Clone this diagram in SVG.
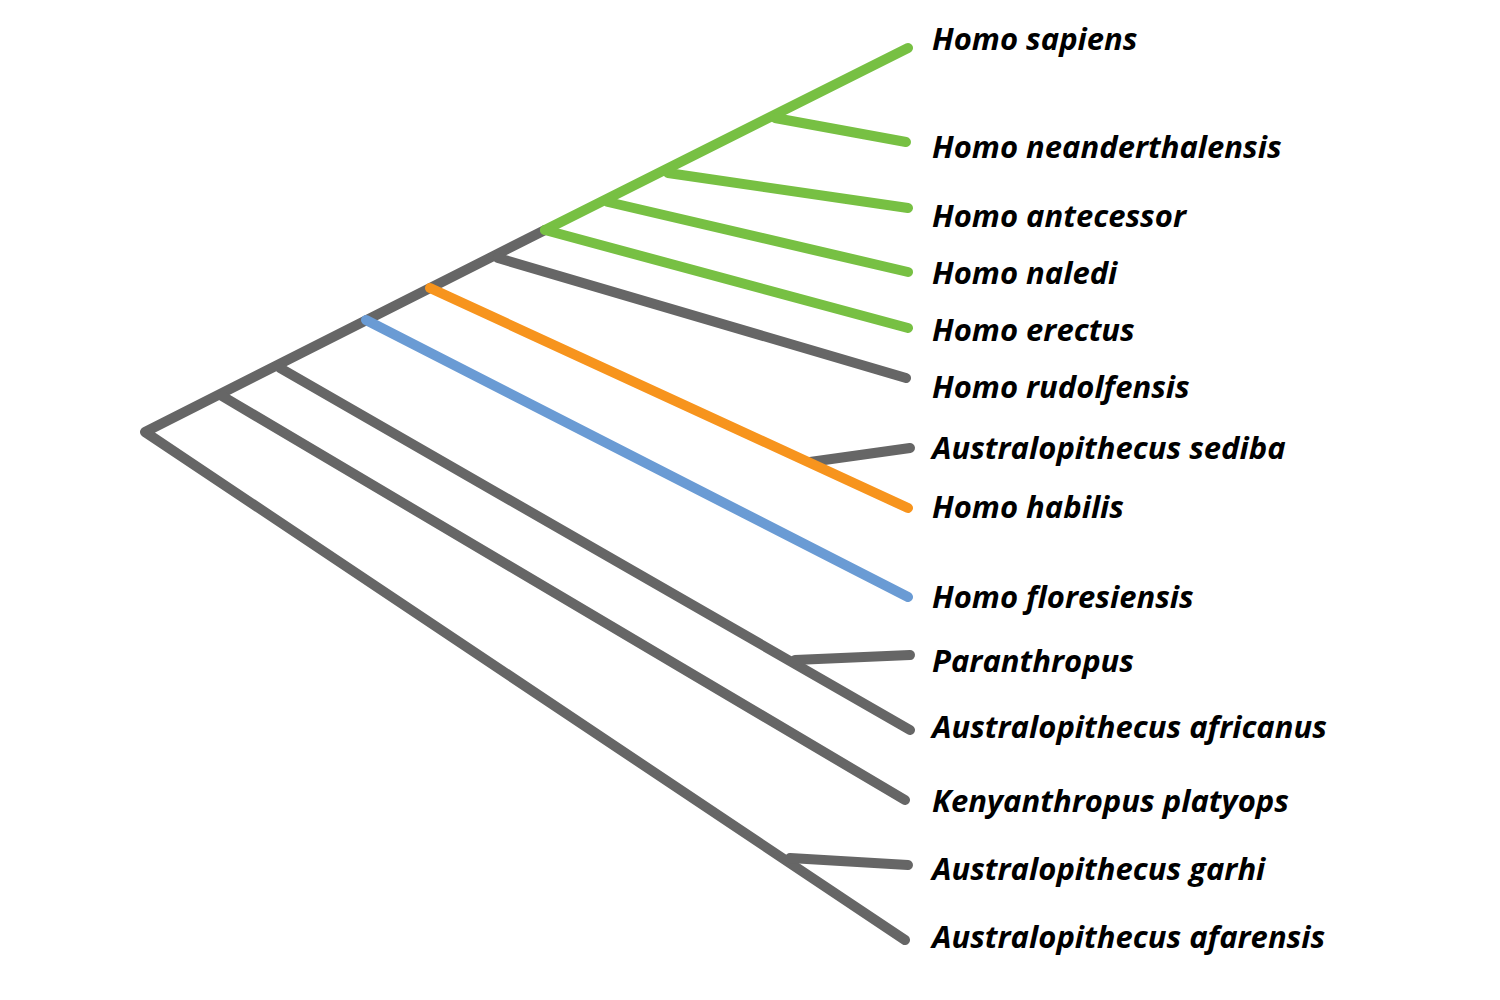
<svg xmlns="http://www.w3.org/2000/svg" width="1500" height="1000" viewBox="0 0 1500 1000">
<style>
.l{fill:none;stroke-width:10;stroke-linecap:round;stroke-linejoin:round}
.g{stroke:#666}.gr{stroke:#77c043}.o{stroke:#f7941d}.b{stroke:#6a9bd4}
text{font-family:"Open Sans","Noto Sans",sans-serif;font-weight:bold;font-style:italic;font-size:31px;fill:#000}
</style>
<rect width="1500" height="1000" fill="#fff"/>
<g id="connectors">
<path class="l g" d="M545,230 L145,432 L905,940"/>
<path class="l g" d="M790,858 L908,865"/>
<path class="l g" d="M222,396 L905,800"/>
<path class="l g" d="M280,368 L910,730"/>
<path class="l g" d="M795,660 L910,655"/>
<path class="l g" d="M810,462 L910,448"/>
<path class="l g" d="M498,258 L906,378"/>
<path class="l b" d="M366,320 L908,597"/>
<path class="l o" d="M430,288 L908,508"/>
<path class="l gr" d="M545,230 L908,48"/>
<path class="l gr" d="M545,230 L908,328"/>
<path class="l gr" d="M608,202 L908,272"/>
<path class="l gr" d="M668,173 L908,208"/>
<path class="l gr" d="M775,118 L906,142"/>
</g>
<g id="n1"><text x="932" y="50">Homo sapiens</text></g>
<g id="n2"><text x="932" y="158">Homo neanderthalensis</text></g>
<g id="n3"><text x="932" y="227">Homo antecessor</text></g>
<g id="n4"><text x="932" y="284">Homo naledi</text></g>
<g id="n5"><text x="932" y="341">Homo erectus</text></g>
<g id="n6"><text x="932" y="398">Homo rudolfensis</text></g>
<g id="n7"><text x="932" y="459">Australopithecus sediba</text></g>
<g id="n8"><text x="932" y="518">Homo habilis</text></g>
<g id="n9"><text x="932" y="608">Homo floresiensis</text></g>
<g id="n10"><text x="932" y="672">Paranthropus</text></g>
<g id="n11"><text x="932" y="738">Australopithecus africanus</text></g>
<g id="n12"><text x="932" y="812">Kenyanthropus platyops</text></g>
<g id="n13"><text x="932" y="880">Australopithecus garhi</text></g>
<g id="n14"><text x="932" y="948">Australopithecus afarensis</text></g>
</svg>
